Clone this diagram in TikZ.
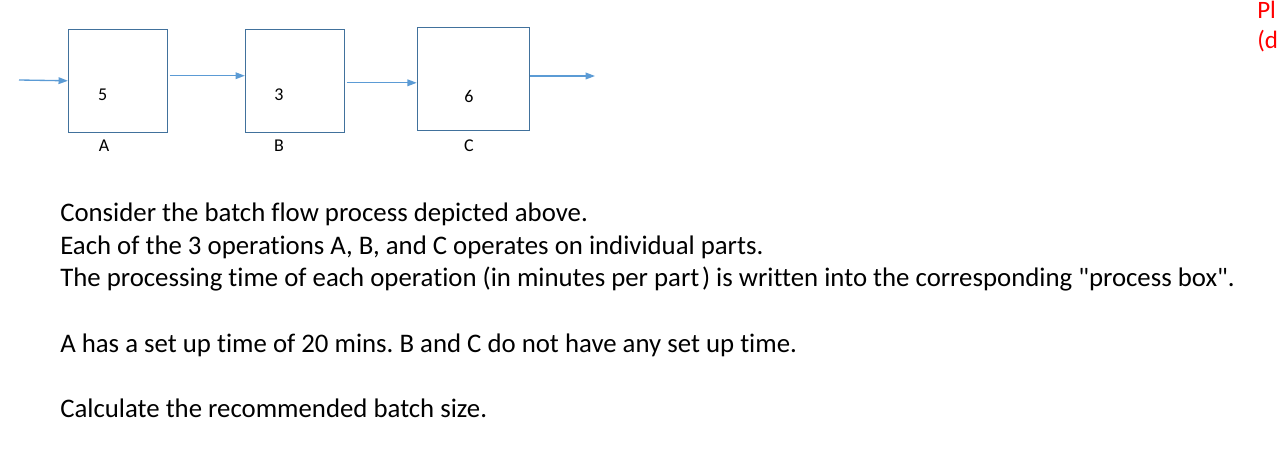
\documentclass[tikz,border=0pt]{standalone}
\usepackage{fontspec}
\setmainfont{Carlito}[Ligatures={TeXOff,CommonOff}]
\frenchspacing
\usetikzlibrary{arrows.meta,positioning}
\definecolor{boxline}{HTML}{41719C}
\definecolor{flowline}{HTML}{5B9BD5}
\begin{document}
\begin{tikzpicture}[
            x=0.75pt, y=-0.75pt,
            >={Triangle[length=7pt,width=5pt]},
            proc/.style={draw=boxline, line width=0.9pt, rectangle, inner sep=0pt,
                            minimum height=77.5pt, minimum width=74pt},
            flow/.style={draw=flowline, line width=1pt, ->},
            tag/.style={font=\fontsize{13.5}{16}\selectfont, inner sep=0pt},
            body/.style={font=\fontsize{20.1}{24}\selectfont, anchor=base west, inner sep=0pt},
            note/.style={text=red, font=\fontsize{18.75}{22}\selectfont, anchor=base west, inner sep=0pt}
        ]
            \useasboundingbox (0,0) rectangle (1277,470);

            \node[proc] (opA) at (117.8,80.8) {};
            \node[proc, right of=opA, node distance=132.75pt] (opB) {};
            \node[proc, right of=opB, node distance=133.9pt, yshift=1.2pt, minimum width=84pt] (opC) {};

            \node[tag] (numA) at (102.7,95) {5};
            \node[tag] (numB) at (279,95) {3};
            \node[tag] (numC) at (469,96) {6};
            \node[tag] (namA) at (104,145.5) {A};
            \node[tag] (namB) at (279,145.5) {B};
            \node[tag] (namC) at (469,145.5) {C};

            \coordinate (src) at (19,80);
            \coordinate (sink) at (595,76);
            \draw[flow] (src) -- (opA.west);
            \draw[flow] ([yshift=3.8pt,xshift=1.5pt]opA.east) -- ([yshift=3.8pt]opB.west);
            \draw[flow] ([yshift=-1.5pt,xshift=1.5pt]opB.east) -- ([yshift=-2.7pt]opC.west);
            \draw[flow] (opC.east |- sink) -- (sink);

            \node[body] (l1) at (60,221.5) {Consider the batch flow process depicted above.};
            \node[body] (l2) at (60,254.1) {Each of the 3 operations A, B, and C operates on individual parts.};
            \node[body] (l3) at (60,286.7) {The processing time of each operation (in minutes per part\hspace{2pt}) is written into the corresponding "process box".};
            \node[body] (l4) at (60,352) {A has a set up time of 20 mins. B and C do not have any set up time.};
            \node[body] (l5) at (60,417) {Calculate the recommended batch size.};

            \node[note] (pl) at (1257,19) {Pl};
            \node[note] (pd) at (1257,49) {(d};

        \end{tikzpicture}
\end{document}
